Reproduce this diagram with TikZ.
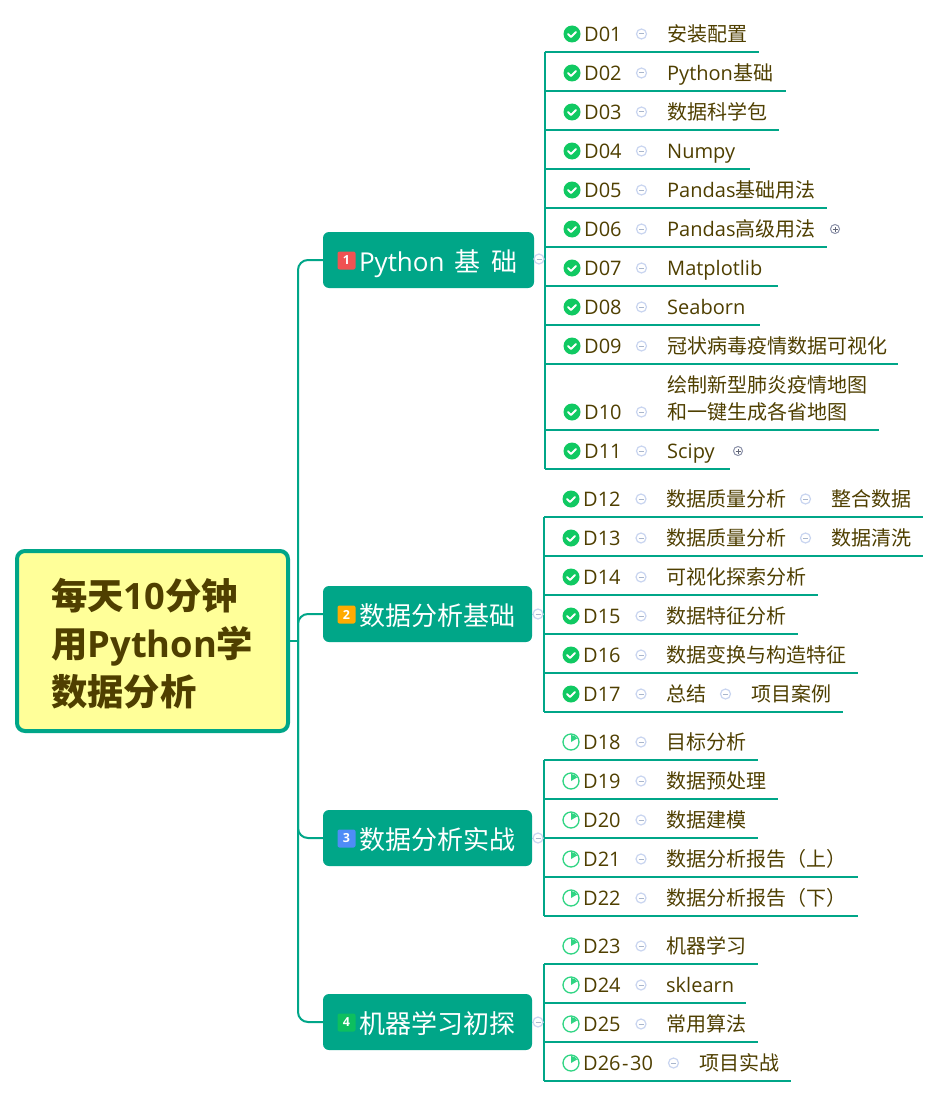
\documentclass[tikz,border=0pt]{standalone}
\usepackage{fontspec}
\setmainfont{Noto Sans CJK SC}
\newfontfamily\la{Open Sans}
\definecolor{teal}{HTML}{00A688}
\definecolor{ink}{HTML}{4F3F00}
\definecolor{rootfill}{HTML}{FFFF99}
\definecolor{okgreen}{HTML}{10C962}
\definecolor{proggreen}{HTML}{2FD583}
\definecolor{foldring}{HTML}{C9D5F0}
\definecolor{foldbar}{HTML}{A9B6CC}
\definecolor{plusring}{HTML}{8A90A8}
\definecolor{badgered}{HTML}{F05252}
\definecolor{badgeorange}{HTML}{FFAB00}
\definecolor{badgeblue}{HTML}{4F8CF7}
\definecolor{badgegreen}{HTML}{0DBF5F}
\definecolor{stub}{HTML}{7FD2C3}
\newcommand\lat[1]{{\la #1}}
\tikzset{
  x=1pt,y=-1pt,
  link/.style={draw=teal,line width=2pt},
  stublink/.style={draw=stub,line width=1pt},
  rootbox/.style={draw=teal,line width=4pt,fill=rootfill,rounded corners=8pt,minimum width=271pt,minimum height=180pt,inner sep=0pt,text width=202.5pt,align=left,text=ink,font=\fontsize{36.3}{48}\selectfont\bfseries},
  branchbox/.style={fill=teal,rounded corners=6pt,minimum height=56pt,inner sep=0pt,text=white,text height=28pt,text depth=6pt,font=\fontsize{26}{30}\selectfont},
  badge/.style={rounded corners=2pt,minimum size=18pt,inner sep=0pt,text=white,font=\fontsize{12.5}{13}\selectfont\bfseries\la},
  leaftext/.style={anchor=base west,inner sep=0pt,text=ink,font=\fontsize{20}{27}\selectfont},
  donemark/.style={circle,fill=okgreen,minimum size=17pt,inner sep=0pt},
  progmark/.style={circle,draw=proggreen,line width=1.3pt,fill=white,minimum size=16pt,inner sep=0pt},
  foldmark/.style={circle,draw=foldring,line width=1.2pt,fill=white,minimum size=10pt,inner sep=0pt},
  plusmark/.style={circle,draw=plusring,line width=1pt,fill=white,minimum size=9pt,inner sep=0pt},
}
\newcommand\foldat[3]{%
  \node[foldmark] (#1) at (#2,#3) {};
  \draw[foldbar,line width=1pt] ([xshift=-2.5pt]#1.center) -- ([xshift=2.5pt]#1.center);}
\newcommand\plusat[3]{%
  \node[plusmark] (#1) at (#2,#3) {};
  \draw[plusring!70!black,line width=1pt] ([xshift=-2.5pt]#1.center) -- ([xshift=2.5pt]#1.center)
    ([yshift=-2.5pt]#1.center) -- ([yshift=2.5pt]#1.center);}
\newcommand\donemk[3]{%
  \node[donemark] (#1) at (#2,#3) {};
  \draw[white,line width=2pt,line cap=round,line join=round] ([shift={(-4,0)}]#1.center) -- ++(3,3) -- ++(5,-5);}
\newcommand\progmk[3]{%
  \node[progmark] (#1) at (#2,#3) {};
  \fill[proggreen] (#1.center) -- ++(0,-7) arc[start angle=-90,end angle=-30,radius=7] -- cycle;}
\newcommand\leaf[6]{%
  \coordinate (s#1) at (\trunkx,#3);
  \coordinate (e#1) at (#4,#3);
  \draw[link] (s#1) -- (e#1);
  #2{c#1}{\markx}{#3-18}
  \node[leaftext] (d#1) at (\dayx,#3-10.7) {\lat{#5}};
  \foldat{f#1}{\foldx}{#3-18}
  \node[leaftext] (t#1) at (\textx,#3-10.7) {#6};}
\begin{document}
\begin{tikzpicture}
\useasboundingbox (0,0) rectangle (940,1097);
\fill[white] (0,0) rectangle (940,1097);

% root and branches
\node[rootbox] (root) at (152.5,641) {\rule{0pt}{37pt}每天\lat{10}分钟\\用\lat{Python}学\\数据分析};
\node[branchbox,minimum width=211pt] (b1) at (428.5,260) {\makebox[211pt][l]{\hspace{36pt}\lat{Python}\hspace{4.5pt} 基\hspace{4.5pt} 础}};
\node[branchbox,minimum width=209pt] (b2) at (427.5,614) {\makebox[209pt][l]{\hspace{36pt}数据分析基础}};
\node[branchbox,minimum width=209pt] (b3) at (427.5,838) {\makebox[209pt][l]{\hspace{36pt}数据分析实战}};
\node[branchbox,minimum width=209pt] (b4) at (427.5,1022) {\makebox[209pt][l]{\hspace{36pt}机器学习初探}};
\node[badge,fill=badgered] (n1) at (346.5,260.5) {1};
\node[badge,fill=badgeorange] (n2) at (346.5,614.5) {2};
\node[badge,fill=badgeblue] (n3) at (346.5,838.5) {3};
\node[badge,fill=badgegreen] (n4) at (346.5,1022.5) {4};

% spine
\coordinate (hub) at (298,641);
\draw[link] (root.east) -- (hub);
\draw[link,rounded corners=10pt] (b1.west) -| (hub);
\draw[link,rounded corners=10pt] (b2.west) -| (hub);
\draw[link,rounded corners=10pt] (b3.west) -| (hub);
\draw[link,rounded corners=10pt] (b4.west) -| (hub);

% group 1
\def\trunkx{544.5}\def\markx{572}\def\dayx{584}\def\foldx{641.5}\def\textx{667}
\leaf{1}{\donemk}{52}{759}{D01}{安装配置}
\leaf{2}{\donemk}{91}{786}{D02}{\lat{Python}基础}
\leaf{3}{\donemk}{130}{779}{D03}{数据科学包}
\leaf{4}{\donemk}{169}{750}{D04}{\lat{Numpy}}
\leaf{5}{\donemk}{208}{827}{D05}{\lat{Pandas}基础用法}
\leaf{6}{\donemk}{247}{827}{D06}{\lat{Pandas}高级用法}
\leaf{7}{\donemk}{286}{778}{D07}{\lat{Matplotlib}}
\leaf{8}{\donemk}{325}{760}{D08}{\lat{Seaborn}}
\leaf{9}{\donemk}{364}{898}{D09}{冠状病毒疫情数据可视化}
\leaf{10}{\donemk}{430}{879}{D10}{和一键生成各省地图}
\node[leaftext] (t10a) at (667,392.3) {绘制新型肺炎疫情地图};
\leaf{11}{\donemk}{469}{730}{D11}{\lat{Scipy}}
\plusat{p6}{835}{229}
\plusat{p11}{738}{451}
\draw[link] (s1) -- (s11);

% group 2
\def\trunkx{544}\def\markx{571}\def\dayx{583}\def\foldx{641}\def\textx{666}
\leaf{12}{\donemk}{517}{923}{D12}{数据质量分析}
\foldat{g12}{805.5}{499}
\node[leaftext] (u12) at (831,506.3) {整合数据};
\leaf{13}{\donemk}{556}{923}{D13}{数据质量分析}
\foldat{g13}{805.5}{538}
\node[leaftext] (u13) at (831,545.3) {数据清洗};
\leaf{14}{\donemk}{595}{818}{D14}{可视化探索分析}
\leaf{15}{\donemk}{634}{798}{D15}{数据特征分析}
\leaf{16}{\donemk}{673}{858}{D16}{数据变换与构造特征}
\leaf{17}{\donemk}{712}{843}{D17}{总结}
\foldat{g17}{725.5}{694}
\node[leaftext] (u17) at (751,701.3) {项目案例};
\draw[link] (s12) -- (s17);

% group 3
\leaf{18}{\progmk}{760}{758}{D18}{目标分析}
\leaf{19}{\progmk}{799}{778}{D19}{数据预处理}
\leaf{20}{\progmk}{838}{758}{D20}{数据建模}
\leaf{21}{\progmk}{877}{858}{D21}{数据分析报告（上）}
\leaf{22}{\progmk}{916}{858}{D22}{数据分析报告（下）}
\draw[link] (s18) -- (s22);

% group 4
\leaf{23}{\progmk}{964}{758}{D23}{机器学习}
\leaf{24}{\progmk}{1003}{746}{D24}{\lat{sklearn}}
\leaf{25}{\progmk}{1042}{758}{D25}{常用算法}
\def\foldx{673.5}\def\textx{699}
\leaf{26}{\progmk}{1081}{791}{D26\kern1.5pt-\kern1.5pt30}{项目实战}
\draw[link] (s23) -- (s26);

% branch folds
\coordinate (j1) at (544.5,259);
\coordinate (j2) at (544,614);
\coordinate (j3) at (544,838);
\coordinate (j4) at (544,1022);
\draw[stublink] (b1.east) -- (j1);
\draw[stublink] (b2.east) -- (j2);
\draw[stublink] (b3.east) -- (j3);
\draw[stublink] (b4.east) -- (j4);
\foldat{k1}{539}{259}
\foldat{k2}{538}{614}
\foldat{k3}{538}{838}
\foldat{k4}{538}{1022}
\end{tikzpicture}
\end{document}
